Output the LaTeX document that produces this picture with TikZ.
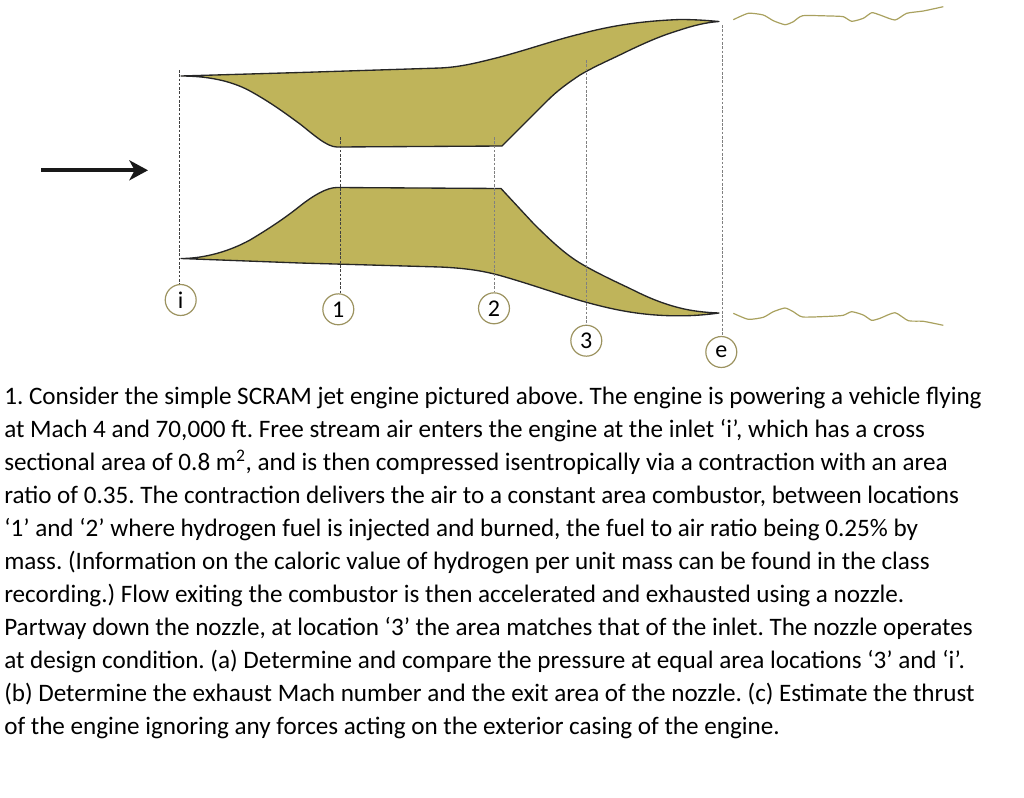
\documentclass[tikz,border=0pt]{standalone}
\usepackage{fontspec}
\setmainfont{Carlito}
\usetikzlibrary{arrows.meta}
\definecolor{olivefill}{HTML}{BFB45A}
\definecolor{oliveline}{HTML}{9C9360}
\definecolor{wavecol}{HTML}{A9A15F}
\tikzset{
 body/.style={fill=olivefill,draw=black!85,line width=1pt,line join=round},
 guide/.style={draw=black!75,line width=0.5pt,dash pattern=on 2pt off 1.2pt},
 lightguide/.style={draw=black!50,line width=0.6pt,dash pattern=on 2pt off 1.2pt},
 marker/.style={circle,draw=oliveline,fill=white,line width=0.9pt,minimum size=23.2pt,inner sep=0pt,font=\fontsize{18pt}{20pt}\selectfont},
 wave/.style={draw=wavecol,line width=0.9pt,line join=round},
 para/.style={anchor=base west,inner sep=0pt,font=\fontsize{18.85pt}{22pt}\selectfont},
}
\begin{document}
\frenchspacing
\begin{tikzpicture}[x=0.75pt,y=-0.75pt]
\useasboundingbox (0,0) rectangle (1024,797);
% engine walls
\path[body] (181,76) -- (300,72.5) -- (440,68)
  .. controls (462,67) and (480,62) .. (500,57)
  .. controls (530,49) and (555,40) .. (580,34)
  .. controls (610,26) and (640,21) .. (680,19.5)
  .. controls (695,19.5) and (708,20.5) .. (719,21.5)
  .. controls (705,22.5) and (692,26) .. (680,30)
  .. controls (660,36) and (645,43) .. (630,50)
  .. controls (612,59) and (595,66) .. (580,75)
  .. controls (568,83) and (558,90) .. (547,101)
  -- (502,146) -- (337,147)
  .. controls (327,147) and (314,135) .. (300,124)
  .. controls (285,113) and (270,102) .. (250,91)
  .. controls (230,80) and (205,76) .. (181,76) -- cycle;
\path[body] (181,258.5) -- (300,263) -- (440,267)
  .. controls (462,268) and (480,270) .. (500,275.5)
  .. controls (530,284) and (555,293) .. (580,300.5)
  .. controls (610,309) and (640,316) .. (680,315.8)
  .. controls (695,315.8) and (708,314.5) .. (719,313)
  .. controls (705,312.5) and (692,311) .. (680,308)
  .. controls (660,303) and (645,296) .. (630,288.5)
  .. controls (612,280) and (595,272) .. (580,263)
  .. controls (565,254) and (550,240) .. (533,223)
  -- (501,188.5) -- (337,187.5)
  .. controls (327,187.5) and (314,195) .. (300,206)
  .. controls (285,218) and (270,228) .. (250,240)
  .. controls (230,251) and (205,258.5) .. (181,258.5) -- cycle;
% wakes
\draw[wave] plot[smooth,tension=0.35] coordinates {(733.3,19.7)(748.3,13.3)(763.3,15)(773.3,20.7)(785,24.7)(793.3,21.7)(802.7,15.7)(830,16)(843.3,16.7)(851.7,21.3)(863.3,18.3)(871.7,12.7)(880,15)(895,20)(906.7,13.3)(923.3,11)(943.3,6.7)};
\draw[wave] plot[smooth,tension=0.35] coordinates {(733.3,313.3)(748.3,319.3)(763.3,317.3)(773.3,311.7)(785,308)(793.3,311.7)(802.7,317)(830,316.3)(843.3,315.3)(851.7,311.7)(863.3,315)(871.7,320.3)(880,318.3)(895,312.7)(908.3,320.7)(923.3,321.3)(943.3,325.3)};
% markers
\node[marker] (mi) at (180.7,300) {i};
\node[marker] (m1) at (338.3,309.3) {1};
\node[marker] (m2) at (494,308.3) {2};
\node[marker] (m3) at (586.3,340.7) {3};
\node[marker] (me) at (721.3,352) {e};
\coordinate (ti) at (179.5,70);
\coordinate (t1) at (340.5,137);
\coordinate (t2) at (494.7,137);
\coordinate (t3) at (586.7,60);
\coordinate (te) at (722,25);
\draw[guide] (ti) -- (ti |- mi.north);
\draw[guide] (t1) -- (t1 |- m1.north);
\draw[lightguide] (t2) -- (t2 |- m2.north);
\draw[lightguide] (t3) -- (t3 |- m3.north);
\draw[lightguide] (te) -- (te |- me.north);
% flow arrow
\coordinate (fa) at (41,170.3);
\coordinate (fb) at (148,170.3);
\draw[line width=3pt,black!90,-{Stealth[length=14pt,width=15pt,inset=4pt]}] (fa) -- (fb);
% text
\node[para] (l1) at (4,404) {1. Consider the simple SCRAM jet engine pictured above. The engine is powering a vehicle flying};
\node[para] (l2) at (4,437) {at Mach 4 and 70,000 ft. Free stream air enters the engine at the inlet ‘i’, which has a cross};
\node[para] (l3) at (4,470) {sectional area of 0.8 m\textsuperscript{2}, and is then compressed isentropically via a contraction with an area};
\node[para] (l4) at (4,503) {ratio of 0.35. The contraction delivers the air to a constant area combustor, between locations};
\node[para] (l5) at (4,536) {‘1’ and ‘2’ where hydrogen fuel is injected and burned, the fuel to air ratio being 0.25\% by};
\node[para] (l6) at (4,569) {mass. (Information on the caloric value of hydrogen per unit mass can be found in the class};
\node[para] (l7) at (4,602) {recording.) Flow exiting the combustor is then accelerated and exhausted using a nozzle.};
\node[para] (l8) at (4,635) {Partway down the nozzle, at location ‘3’ the area matches that of the inlet. The nozzle operates};
\node[para] (l9) at (4,668) {at design condition. (a) Determine and compare the pressure at equal area locations ‘3’ and ‘i’.};
\node[para] (l10) at (4,701) {(b) Determine the exhaust Mach number and the exit area of the nozzle. (c) Estimate the thrust};
\node[para] (l11) at (4,734) {of the engine ignoring any forces acting on the exterior casing of the engine.};
\end{tikzpicture}
\end{document}
